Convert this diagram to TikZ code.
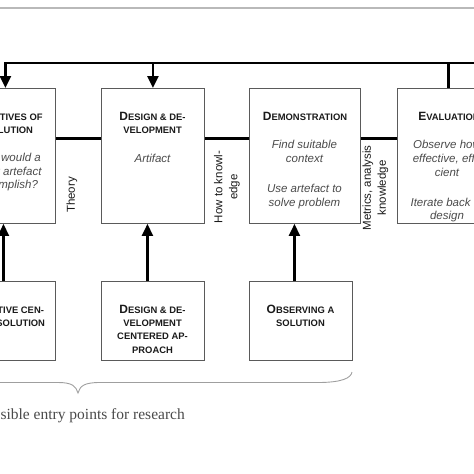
\documentclass[tikz,border=0pt]{standalone}
\usepackage{fontspec}
\setmainfont{Liberation Sans}
\newfontfamily\serifface{Liberation Serif}
\usetikzlibrary{arrows.meta}
\definecolor{boxline}{HTML}{5A5A5A}
\definecolor{headtxt}{HTML}{1A1A1A}
\definecolor{bodytxt}{HTML}{4A4A4A}
\newcommand\bigsc[1]{{\fontsize{12}{13.4}\selectfont #1}}
\begin{document}
\begin{tikzpicture}[x=1pt,y=-1pt,
  box/.style={draw=boxline, line width=0.9pt, inner sep=0pt, anchor=north west},
  head/.style={font={\fontsize{9.4}{13.4}\selectfont\bfseries}, text=headtxt, align=center, anchor=base, inner sep=0pt},
  body/.style={font={\fontsize{11.5}{13.6}\selectfont\itshape}, text=bodytxt, align=center, anchor=base, inner sep=0pt},
  side/.style={font={\fontsize{11.5}{15}\selectfont}, text=headtxt, align=center, rotate=90, inner sep=0pt},
  fbline/.style={line width=2.4pt, black, line join=miter},
  conn/.style={line width=3pt, black},
  tip/.style={-{Triangle[width=11pt,length=12pt]}},
  uparrow/.style={line width=2.2pt, black, tip}
]
\path[use as bounding box] (0,0) rectangle (474,474);
\clip (0,0) rectangle (474,474);

% top gray rule
\draw[gray!55, line width=2pt] (-5,8) -- (480,8);

% top row boxes
\node[box, minimum width=100pt, minimum height=135pt] (obj) at (-45,88) {};
\node[box, minimum width=103pt, minimum height=135pt] (des) at (101,88) {};
\node[box, minimum width=111pt, minimum height=135pt] (dem) at (249,88) {};
\node[box, minimum width=100pt, minimum height=135pt] (eva) at (397,88) {};

% bottom row boxes
\node[box, minimum width=100pt, minimum height=79pt] (bobj) at (-45,281) {};
\node[box, minimum width=103pt, minimum height=79pt] (bdes) at (101,281) {};
\node[box, minimum width=103pt, minimum height=79pt] (bobs) at (249,281) {};

% headers (base anchor = baseline of last line)
\node[head] (objh) at (4,133.4) {\bigsc{O}BJECTIVES OF\\A SOLUTION};
\node[head] (desh) at (152.5,133.4) {\bigsc{D}ESIGN \& DE-\\VELOPMENT};
\node[head] (demh) at (305,120) {\bigsc{D}EMONSTRATION};
\node[head] (evah) at (449,120) {\bigsc{E}VALUATION};

% bodies
\node[body] (objb) at (6,188.7) {What would a\\better artefact\\accomplish?};
\node[body] (desb) at (152.5,162) {Artifact};
\node[body] (demb) at (304.5,206) {Find suitable\\context\\[16.4pt]Use artefact to\\solve problem};
\node[body] (evab) at (447,219.6) {Observe how\\effective, effi-\\cient\\[16.4pt]Iterate back to\\design};

% bottom headers
\node[head] (bobjh) at (3.5,326.4) {\bigsc{O}BJECTIVE CEN-\\TERED SOLUTION};
\node[head] (bdesh) at (152.5,353.2) {\bigsc{D}ESIGN \& DE-\\VELOPMENT\\CENTERED AP-\\PROACH};
\node[head] (bobsh) at (300.5,326.4) {\bigsc{O}BSERVING A\\SOLUTION};

% side labels
\node[side] (theory) at (72,195) {Theory};
\node[side] (howto) at (227,187) {How to knowl-\\edge};
\node[side] (metrics) at (375.5,188) {Metrics, analysis\\knowledge};

% feedback line
\coordinate (fbtop) at (0,63);
\coordinate (fbend) at (480,63);
\draw[fbline, tip] ([xshift=1pt]eva.north) -- ([xshift=1pt]eva.north |- fbtop) -- (obj.north |- fbtop) -- (obj.north);
\draw[fbline, tip] (des.north |- fbtop) -- (des.north);
\draw[fbline] ([xshift=1pt]eva.north |- fbtop) -- (fbend);

% horizontal connectors
\coordinate (hl) at (0,138);
\draw[conn] (obj.east |- hl) -- (des.west |- hl);
\draw[conn] (des.east |- hl) -- (dem.west |- hl);
\draw[conn] (dem.east |- hl) -- (eva.west |- hl);

% upward arrows
\draw[uparrow] ([xshift=-2pt]bobj.north) -- ([xshift=-2pt]obj.south);
\draw[uparrow] ([xshift=-5.5pt]bdes.north) -- ([xshift=-5.5pt]des.south);
\draw[uparrow] ([xshift=-6.5pt]bobs.north) -- ([xshift=-6.5pt]bobs.north |- dem.south);

% brace
\draw[gray!75, line width=0.9pt] (-5,382.5) -- (58,382.5) .. controls (72,382.5) and (76,386) .. (78,393) .. controls (80,386) and (84,382.5) .. (100,382.5) -- (318,382.5) .. controls (342,382.5) and (351,378) .. (352,372);
\node[font={\serifface\fontsize{15.5}{18}\selectfont}, text=bodytxt, anchor=base east, inner sep=0pt] (entry) at (185,419) {Possible entry points for research};
\end{tikzpicture}
\end{document}
